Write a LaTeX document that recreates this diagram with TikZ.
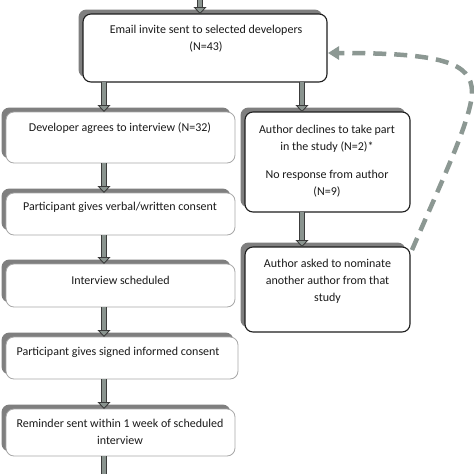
\documentclass[tikz,border=0pt]{standalone}
\usepackage{fontspec}
\setmainfont{Carlito}
\usetikzlibrary{arrows.meta,shadows,calc}
\definecolor{shadowgray}{HTML}{7F7F7F}
\definecolor{lightedge}{HTML}{A8A8A8}
\definecolor{darkedge}{HTML}{1E1E1E}
\definecolor{arrfill}{HTML}{8A948F}
\definecolor{arrdark}{HTML}{3C3C3C}
\definecolor{dashcol}{HTML}{8C9893}
\definecolor{txt}{HTML}{1A1A1A}
\newcommand\blockarrow[2]{%
  \draw[arrout] #1 -- #2;
  \draw[arrin] #1 -- #2;
}
\begin{document}
\begin{tikzpicture}[x=1pt,y=-1pt,
  boxbase/.style={rectangle, rounded corners=8pt, fill=white, inner sep=0pt, outer sep=0pt,
    drop shadow={shadow xshift=-4.5pt, shadow yshift=4.5pt, fill=shadowgray, opacity=1}},
  lbox/.style={boxbase, draw=lightedge, line width=0.8pt, minimum width=229pt},
  rbox/.style={boxbase, draw=darkedge, line width=1.1pt, minimum width=165pt},
  tbox/.style={boxbase, draw=darkedge, line width=1.1pt},
  lbl/.style={font=\fontsize{12}{17}\selectfont, text=txt, align=center, inner sep=0pt},
  arrout/.style={line width=6.5pt, draw=arrdark,
    -{Triangle[width=13pt,length=7pt,fill=arrfill,line width=0.9pt]}},
  arrin/.style={line width=4.6pt, draw=arrfill, shorten >=7.5pt},
  dasharr/.style={line width=4.5pt, draw=dashcol, dash pattern=on 13pt off 8pt,
    -{Triangle[width=13pt,length=11pt,fill=dashcol]}}
]
\useasboundingbox (0,0) rectangle (474,474);
\fill[white] (0,0) rectangle (474,474);

% coordinates for arrow columns
\coordinate (xl) at (104,0);
\coordinate (xr) at (302,0);
\coordinate (topin) at (200,-10);
\coordinate (botout) at (104,500);

% boxes
\node[tbox, minimum width=244pt, minimum height=68pt] (tb) at (205,48) {};
\node[lbox, minimum height=51pt] (b1) at (120.5,137.5) {};
\node[lbox, minimum height=42pt] (b2) at (120.5,214) {};
\node[lbox, minimum height=43pt] (b3) at (120.5,285.5) {};
\node[lbox, minimum height=42pt, minimum width=232pt] (b4) at (122,358) {};
\node[lbox, minimum height=47pt] (b5) at (120.5,432.5) {};
\node[rbox, minimum height=100pt] (r1) at (327.5,162) {};
\node[rbox, minimum height=85pt] (r2) at (327.5,289.5) {};

% texts
\node[lbl] (tbt) at (206,38.5) {Email invite sent to selected developers\\(N=43)};
\node[lbl] (b1t) at (120,128) {Developer agrees to interview (N=32)};
\node[lbl] (b2t) at (120,207.5) {Participant gives verbal/written consent};
\node[lbl] (b3t) at (120.5,280) {Interview scheduled};
\node[lbl] (b4t) at (118,352) {Participant gives signed informed consent};
\node[lbl] (b5t) at (120,431.5) {Reminder sent within 1 week of scheduled\\interview};
\node[lbl] (r1t) at (327,161.5) {Author declines to take part\\in the study (N=2)*\\[11pt]No response from author\\(N=9)};
\node[lbl] (r2t) at (327.5,281.5) {Author asked to nominate\\another author from that\\study};

% block arrows
\blockarrow{(topin)}{(tb.north -| topin)}
\blockarrow{(tb.south -| xl)}{(b1.north -| xl)}
\blockarrow{(tb.south -| xr)}{(r1.north -| xr)}
\blockarrow{(b1.south -| xl)}{(b2.north -| xl)}
\blockarrow{(b2.south -| xl)}{(b3.north -| xl)}
\blockarrow{(b3.south -| xl)}{(b4.north -| xl)}
\blockarrow{(b4.south -| xl)}{(b5.north -| xl)}
\blockarrow{(b5.south -| xl)}{(botout)}
\blockarrow{(r1.south -| xr)}{(r2.north -| xr)}

% dashed feedback arrow
\coordinate (ds) at ($(r2.north east)+(2,3)$);
\coordinate (de) at ($(tb.east)+(1,5)$);
\draw[dasharr] (ds) .. controls (440,185) and (472,118) .. (472,92)
  .. controls (472,62) and (440,53) .. (de);
\end{tikzpicture}
\end{document}
